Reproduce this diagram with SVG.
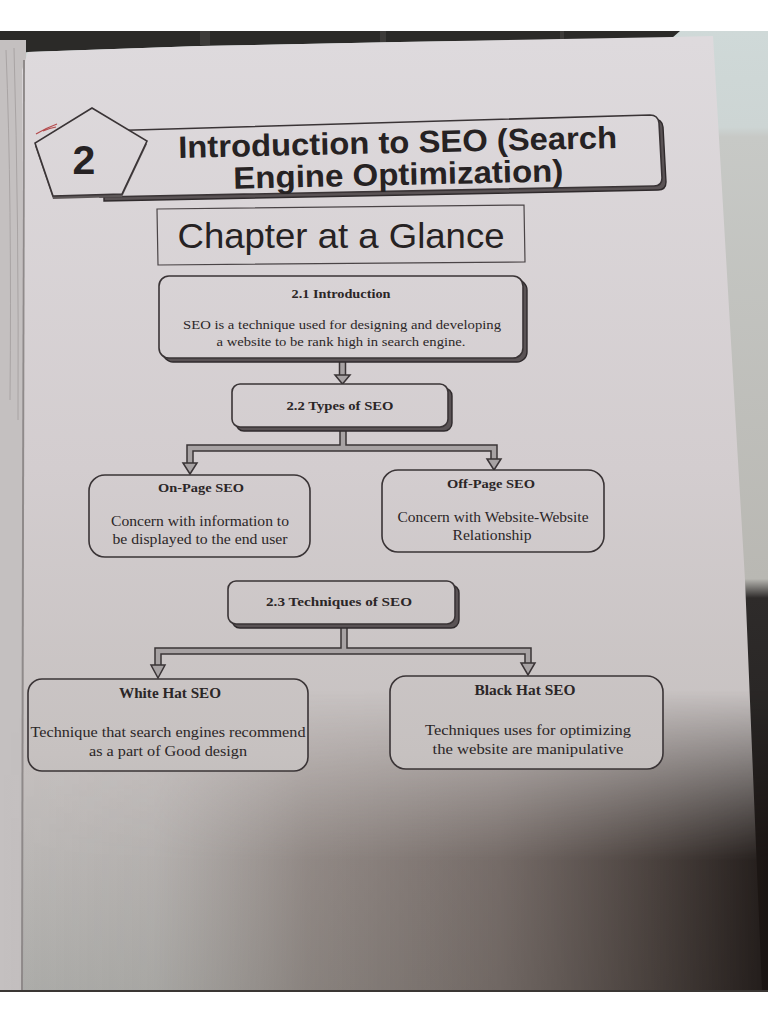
<svg xmlns="http://www.w3.org/2000/svg" width="768" height="1024" viewBox="0 0 768 1024">
<defs>
<linearGradient id="pageG" gradientUnits="userSpaceOnUse" x1="0" y1="40" x2="0" y2="992">
<stop offset="0" stop-color="#dedadd"/>
<stop offset="0.45" stop-color="#d3cdcf"/>
<stop offset="0.75" stop-color="#c6c1c0"/>
<stop offset="1" stop-color="#adadaa"/>
</linearGradient>
<linearGradient id="shadeH" gradientUnits="userSpaceOnUse" x1="0" y1="0" x2="768" y2="0">
<stop offset="0" stop-color="#6a5c56" stop-opacity="0"/>
<stop offset="0.2" stop-color="#6a5c56" stop-opacity="0.08"/>
<stop offset="0.4" stop-color="#5e4f49" stop-opacity="0.45"/>
<stop offset="0.65" stop-color="#4a3c37" stop-opacity="0.62"/>
<stop offset="0.85" stop-color="#2e2420" stop-opacity="0.8"/>
<stop offset="1" stop-color="#1a1412" stop-opacity="0.95"/>
</linearGradient>
<linearGradient id="fadeV" gradientUnits="userSpaceOnUse" x1="0" y1="690" x2="0" y2="860">
<stop offset="0" stop-color="#fff" stop-opacity="0"/>
<stop offset="1" stop-color="#fff" stop-opacity="1"/>
</linearGradient>
<mask id="fadeM" maskUnits="userSpaceOnUse" x="0" y="600" width="768" height="400">
<rect x="0" y="600" width="768" height="400" fill="url(#fadeV)"/>
</mask>
<linearGradient id="rightG" x1="0" y1="31" x2="0" y2="992" gradientUnits="userSpaceOnUse">
<stop offset="0" stop-color="#cfd9d8"/>
<stop offset="0.1" stop-color="#cdd5d4"/>
<stop offset="0.11" stop-color="#c7c9c6"/>
<stop offset="0.57" stop-color="#b9b8b3"/>
<stop offset="0.59" stop-color="#2e2b2a"/>
<stop offset="1" stop-color="#1d1b1a"/>
</linearGradient>
<style>
.box{fill:url(#pageG);stroke:#3a3436;stroke-width:1.6}
.shadow{fill:#5a5355;stroke:#2f2a2c;stroke-width:1.4}
.tubeO{fill:none;stroke:#3a3436;stroke-width:7.5;stroke-linejoin:miter}
.tubeI{fill:none;stroke:#a7a2a3;stroke-width:4.5;stroke-linejoin:miter}
.head{fill:#a7a2a3;stroke:#3a3436;stroke-width:1.5;stroke-linejoin:miter}
.t{font-family:"Liberation Serif","DejaVu Serif",serif;fill:#2b2627;text-anchor:middle}
.b{font-weight:bold}
.h{font-family:"Liberation Sans",Arial,sans-serif;fill:#262223;text-anchor:middle}
</style>
</defs>

<!-- photo background -->
<rect x="0" y="0" width="768" height="1024" fill="#ffffff"/>
<rect x="0" y="31" width="768" height="961" fill="url(#rightG)"/>
<path d="M0,31 H680 L672,38 L400,42 L200,46 L28,52 L0,56 Z" fill="#2b2a28"/>
<path d="M200,31 h10 v14 h-10z M380,31 h6 v11 h-6z M560,31 h4 v9 h-4z" fill="#4a4844" opacity="0.6"/>
<rect x="0" y="40" width="26" height="952" fill="#c4c0c0"/>
<path d="M6,50 Q12,200 10,400 M14,48 Q19,220 18,420" fill="none" stroke="#a9a4a4" stroke-width="1"/>
<path d="M28,52 L200,46 L400,42 L672,37 L713,36 L745,580 L762,992 L22,992 L22,70 Z" fill="url(#pageG)"/>
<path d="M24,60 L22,992" stroke="#8f8a8a" stroke-width="2" fill="none"/>
<rect x="0" y="600" width="768" height="392" fill="url(#shadeH)" mask="url(#fadeM)"/>
<rect x="0" y="990" width="768" height="2" fill="#3a3634"/>

<!-- red pen mark -->
<path d="M36,134 Q46,128 57,124 M43,131 Q50,128 56,127" fill="none" stroke="#b44a4c" stroke-width="1.2"/>

<!-- header -->
<g id="title-banner">
<path d="M104,135 L654,119 Q662,119 663,127 L666,182 Q666,190 658,190 L104,201 Z" class="shadow"/>
<path d="M100,131 L650,115 Q658,115 659,123 L662,178 Q662,186 654,186 L100,197 Z" class="box"/>
<g transform="rotate(-1.3 398 160)">
<text class="h b" x="398" y="153" font-size="31" textLength="439" lengthAdjust="spacingAndGlyphs">Introduction to SEO (Search</text>
<text class="h b" x="398" y="185" font-size="31" textLength="330" lengthAdjust="spacingAndGlyphs">Engine Optimization)</text>
</g>
</g>
<g id="chapter-number">
<polygon points="92,111 147,144 122,197 53,199 35,146" fill="#5d5758"/>
<polygon points="92,108 147,141 122,194 53,196 35,143" class="box"/>
<text class="h b" x="84" y="174" font-size="41">2</text>
</g>
<g id="chapter-glance">
<polygon points="157,209 524,205 525,262 158,265" fill="url(#pageG)" stroke="#4a4446" stroke-width="1.2"/>
<text class="h" x="341" y="248" font-size="35" textLength="327" lengthAdjust="spacingAndGlyphs">Chapter at a Glance</text>
</g>

<!-- connectors -->
<g id="connectors">
<path class="tubeO" d="M342.5,361 V376"/>
<path class="tubeO" d="M343,431 V449 M190,463 V448 H494 V459"/>
<path class="tubeO" d="M344,628 V652 M158,665 V651 H528 V663"/>
<path class="tubeI" d="M342.5,361 V376"/>
<path class="tubeI" d="M343,431 V449 M190,463 V448 H494 V459"/>
<path class="tubeI" d="M344,628 V652 M158,665 V651 H528 V663"/>
<polygon class="head" points="335,375 350,375 342.5,384"/>
<polygon class="head" points="183,463 197,463 190,474"/>
<polygon class="head" points="487,459 501,459 494,470"/>
<polygon class="head" points="151,665 165,665 158,678"/>
<polygon class="head" points="521,663 535,663 528,675"/>
</g>

<!-- nodes -->
<g id="n-intro">
<rect x="163" y="280" width="364" height="82" rx="10" class="shadow"/>
<rect x="159" y="276" width="364" height="82" rx="10" class="box"/>
<text class="t b" x="341" y="298" font-size="12" textLength="99" lengthAdjust="spacingAndGlyphs">2.1  Introduction</text>
<text class="t" x="342" y="329" font-size="13" textLength="318" lengthAdjust="spacingAndGlyphs">SEO is a technique used for designing and developing</text>
<text class="t" x="341" y="346" font-size="13" textLength="249" lengthAdjust="spacingAndGlyphs">a website to be rank high in search engine.</text>
</g>
<g id="n-types">
<rect x="236" y="388" width="216" height="43" rx="8" class="shadow"/>
<rect x="232" y="384" width="216" height="43" rx="8" class="box"/>
<text class="t b" x="340" y="410" font-size="12.5" textLength="107" lengthAdjust="spacingAndGlyphs">2.2  Types of SEO</text>
</g>
<g id="n-onpage">
<rect x="89" y="475" width="221" height="82" rx="16" class="box"/>
<text class="t b" x="201" y="492" font-size="13" textLength="86" lengthAdjust="spacingAndGlyphs">On-Page SEO</text>
<text class="t" x="200" y="526" font-size="14" textLength="178" lengthAdjust="spacingAndGlyphs">Concern with information to</text>
<text class="t" x="200" y="544" font-size="14" textLength="175" lengthAdjust="spacingAndGlyphs">be displayed to the end user</text>
</g>
<g id="n-offpage">
<rect x="382" y="470" width="222" height="82" rx="16" class="box"/>
<text class="t b" x="491" y="488" font-size="13" textLength="88" lengthAdjust="spacingAndGlyphs">Off-Page SEO</text>
<text class="t" x="493" y="522" font-size="14" textLength="191" lengthAdjust="spacingAndGlyphs">Concern with Website-Website</text>
<text class="t" x="492" y="540" font-size="14" textLength="79" lengthAdjust="spacingAndGlyphs">Relationship</text>
</g>
<g id="n-techniques">
<rect x="232" y="585" width="227" height="43" rx="8" class="shadow"/>
<rect x="228" y="581" width="227" height="43" rx="8" class="box"/>
<text class="t b" x="339" y="606" font-size="13" textLength="146" lengthAdjust="spacingAndGlyphs">2.3  Techniques of SEO</text>
</g>
<g id="n-whitehat">
<rect x="28" y="679" width="280" height="92" rx="14" class="box"/>
<text class="t b" x="170" y="698" font-size="14" textLength="102" lengthAdjust="spacingAndGlyphs">White Hat SEO</text>
<text class="t" x="168" y="737" font-size="14.5" textLength="275" lengthAdjust="spacingAndGlyphs">Technique that search engines recommend</text>
<text class="t" x="168" y="756" font-size="14.5" textLength="158" lengthAdjust="spacingAndGlyphs">as a part of Good design</text>
</g>
<g id="n-blackhat">
<rect x="390" y="676" width="273" height="93" rx="16" class="box"/>
<text class="t b" x="525" y="695" font-size="14" textLength="101" lengthAdjust="spacingAndGlyphs">Black Hat SEO</text>
<text class="t" x="528" y="735" font-size="14.5" textLength="206" lengthAdjust="spacingAndGlyphs">Techniques uses for optimizing</text>
<text class="t" x="528" y="754" font-size="14.5" textLength="191" lengthAdjust="spacingAndGlyphs">the website are manipulative</text>
</g>
</svg>
